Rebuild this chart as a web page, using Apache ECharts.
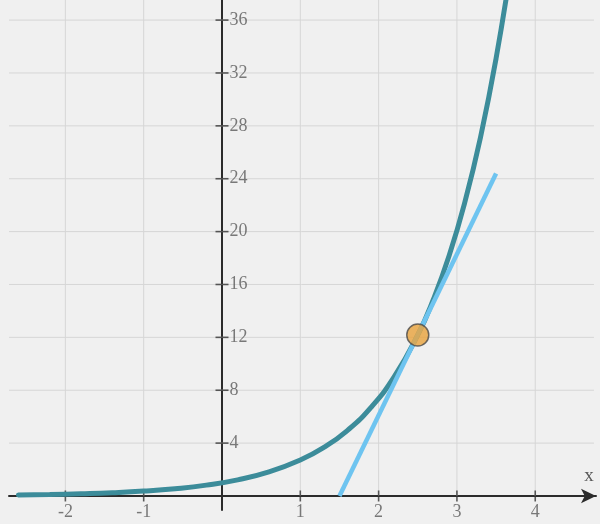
<!DOCTYPE html>
<html>
<head>
<meta charset="utf-8">
<script src="https://cdn.jsdelivr.net/npm/echarts@6/dist/echarts.min.js"></script>
<style>
html,body{margin:0;padding:0;background:#f0f0f0;}
#chart{width:600px;height:524px;}
</style>
</head>
<body>
<div id="chart"></div>
<script>
// Values
var curveX = [-2.6,-2.2,-1.8,-1.4,-1.0,-0.6,-0.2,0.2,0.6,1.0,1.3,1.6,1.9,2.2,2.5,2.7,2.9,3.1,3.3,3.5,3.7];
var curveY = [0.07,0.11,0.17,0.25,0.37,0.55,0.82,1.22,1.82,2.72,3.67,4.95,6.69,9.03,12.18,14.88,18.17,22.2,27.1,33.1,40.4];
var tangentX = [1.5, 3.5];
var tangentY = [0, 24.4];
var pointX = [2.5];
var pointY = [12.18];
var xTicks = [-2,-1,1,2,3,4];
var yTicks = [4,8,12,16,20,24,28,32,36];
var xRange = [-2.72, 4.776];
var yRange = [-1.06, 37.52];
var gridXEnd = 4.75;

function pairs(xs, ys){ return xs.map(function(x,i){return [x, ys[i]];}); }

var font = 'Liberation Serif';
var gridColor = '#d6d6d6';
var labelColor = '#5a5a5a';
var series = [];
// vertical grid lines
xTicks.forEach(function(t){
  series.push({type:'line', data:[[t,0],[t,yRange[1]]], symbol:'none', silent:true, z:1,
    lineStyle:{color:gridColor, width:1}});
});
// horizontal grid lines
yTicks.forEach(function(t){
  series.push({type:'line', data:[[xRange[0],t],[gridXEnd,t]], symbol:'none', silent:true, z:1,
    lineStyle:{color:gridColor, width:1}});
});
// crossing tick marks with labels
series.push({type:'scatter', data:xTicks.map(function(t){return [t,0];}), symbol:'rect',
  symbolSize:[1.6,11], itemStyle:{color:'#333'}, silent:true, z:2,
  label:{show:true, position:'bottom', distance:2, color:labelColor, fontFamily:font, fontSize:18,
    formatter:function(p){return String(p.value[0]);}}});
series.push({type:'scatter', data:yTicks.map(function(t){return [0,t];}), symbol:'rect',
  symbolSize:[13,1.6], itemStyle:{color:'#333'}, silent:true, z:2,
  label:{show:true, position:'right', distance:1, color:labelColor, fontFamily:font, fontSize:18,
    formatter:function(p){return String(p.value[1]);}}});
// curve
series.push({type:'line', data:pairs(curveX, curveY), smooth:true, symbol:'none', z:3,
  lineStyle:{color:'#3c8c9a', width:5, cap:'round'}});
// tangent
series.push({type:'line', data:pairs(tangentX, tangentY), symbol:'none', z:4,
  lineStyle:{color:'#6ec4f0', width:4.5}});
// point
series.push({type:'scatter', data:pairs(pointX, pointY), symbol:'circle', symbolSize:22, z:5,
  itemStyle:{color:'#e8a23c', borderColor:'#4a4a4a', borderWidth:1.5}});

var chart = echarts.init(document.getElementById('chart'));
chart.setOption({
  backgroundColor:'#f0f0f0',
  animation:false,
  grid:{left:9, right:4, top:0, bottom:14, outerBoundsMode:'none', containLabel:false},
  xAxis:{type:'value', min:xRange[0], max:xRange[1],
    axisLine:{onZero:true, lineStyle:{color:'#2b2b2b', width:2}, symbol:['none','arrow'], symbolSize:[11,15]},
    axisTick:{show:false}, splitLine:{show:false}, axisLabel:{show:false},
    name:'x', nameLocation:'end', nameGap:-7,
    nameTextStyle:{color:labelColor, fontFamily:font, fontSize:19, align:'center', verticalAlign:'bottom', padding:[0,0,10,0]}
  },
  yAxis:{type:'value', min:yRange[0], max:yRange[1],
    axisLine:{onZero:true, lineStyle:{color:'#2b2b2b', width:2}},
    axisTick:{show:false}, splitLine:{show:false}, axisLabel:{show:false}
  },
  series:series
});
</script>
</body>
</html>
